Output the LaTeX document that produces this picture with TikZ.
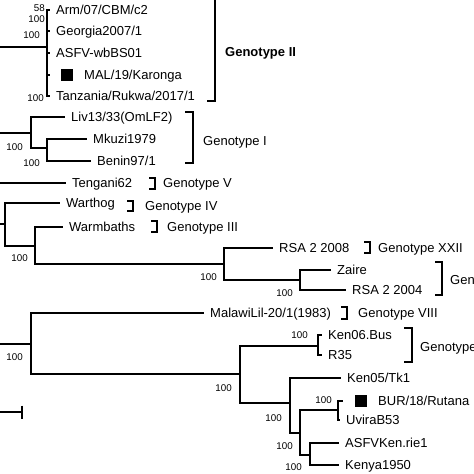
\documentclass[tikz,border=0pt]{standalone}
\usepackage{fontspec}
\setmainfont{Liberation Sans}
\usetikzlibrary{arrows.meta}
\newcommand{\sqmark}{\rule[-1pt]{12pt}{12pt}}

\begin{document}
\begin{tikzpicture}[x=1pt, y=-1pt,
  branch/.style={line width=2.4pt},
  leaf/.style={anchor=west, inner xsep=6pt, inner ysep=0pt, text height=9pt, text depth=0pt, font=\fontsize{13}{15}\selectfont},
  boot/.style={anchor=east, inner sep=0pt, text height=7pt, text depth=0pt, font=\fontsize{9.8}{11}\selectfont},
  gline/.style={line width=2.4pt},
  gname/.style={anchor=west, inner sep=0pt, text height=9pt, text depth=0pt, font=\fontsize{13}{15}\selectfont}
]
  \clip (0,0) rectangle (474,474);
  \fill[white] (0,0) rectangle (474,474);

  % genotype II
  \coordinate (r2) at (0,47);
  \coordinate (g2) at (47,47);
  \node[leaf] (arm) at (50,10) {Arm/07/CBM/c2};
  \node[leaf] (geo) at (50,31) {Georgia2007/1};
  \node[leaf] (wbbs) at (50,53) {ASFV-wbBS01};
  \node[leaf] (mal) at (50,75) {\hspace*{5pt}\sqmark\hspace{11pt}MAL/19/Karonga};
  \node[leaf] (tza) at (50,96) {Tanzania/Rukwa/2017/1};
  \draw[branch] (r2) -- (g2);
  \foreach \t in {arm,geo,wbbs,mal,tza}
    \draw[branch] (g2) |- (\t.west);
  \node[boot] (b1) at (45,8) {58};
  \node[boot] (b2) at (45,19) {100};
  \node[boot] (b3) at (40,35) {100};
  \node[boot] (b4) at (44,98) {100};

  % genotype I
  \coordinate (r1) at (0,133);
  \coordinate (g1) at (31,133);
  \coordinate (g1b) at (47,148);
  \node[leaf] (liv) at (65,117) {Liv13/33(OmLF2)};
  \node[leaf] (mkuzi) at (87,139) {Mkuzi1979};
  \node[leaf] (benin) at (91,161) {Benin97/1};
  \draw[branch] (r1) -- (g1);
  \draw[branch] (g1) |- (liv.west);
  \draw[branch] (g1) |- (g1b);
  \draw[branch] (g1b) |- (mkuzi.west);
  \draw[branch] (g1b) |- (benin.west);
  \node[boot] (b5) at (23,147) {100};
  \node[boot] (b6) at (40,163) {100};

  % genotype V
  \coordinate (r5) at (0,183);
  \node[leaf] (tengani) at (66,183) {Tengani62};
  \draw[branch] (r5) -- (tengani.west);

  % genotypes IV, III, XXII, XX
  \coordinate (r4) at (0,224);
  \coordinate (c4) at (5,224);
  \coordinate (c3) at (35,246);
  \coordinate (cbig) at (224,264);
  \coordinate (czx) at (300,280);
  \node[leaf] (warthog) at (60,203) {Warthog};
  \node[leaf] (warmbaths) at (63,227) {Warmbaths};
  \node[leaf] (rsa08) at (273,248) {RSA 2 2008};
  \node[leaf] (zaire) at (331,270) {Zaire};
  \node[leaf] (rsa04) at (346,290) {RSA 2 2004};
  \draw[branch] (r4) -- (c4);
  \draw[branch] (c4) |- (warthog.west);
  \draw[branch] (c4) |- (c3);
  \draw[branch] (c3) |- (warmbaths.west);
  \draw[branch] (c3) |- (cbig);
  \draw[branch] (cbig) |- (rsa08.west);
  \draw[branch] (cbig) |- (czx);
  \draw[branch] (czx) |- (zaire.west);
  \draw[branch] (czx) |- (rsa04.west);
  \node[boot] (b7) at (28,258) {100};
  \node[boot] (b8) at (217,277) {100};
  \node[boot] (b9) at (293,293) {100};

  % genotypes VIII, IX, X
  \coordinate (r8) at (0,344);
  \coordinate (c8) at (31,344);
  \coordinate (c9) at (240,374);
  \coordinate (ckb) at (318,346);
  \coordinate (c10) at (290,403);
  \coordinate (c11) at (300,433);
  \coordinate (c12) at (338,410);
  \coordinate (c13) at (310,455);
  \node[leaf] (malawi) at (204,313) {MalawiLil-20/1(1983)};
  \node[leaf] (ken06) at (322,335) {Ken06.Bus};
  \node[leaf] (r35) at (322,355) {R35};
  \node[leaf] (ken05) at (341,378) {Ken05/Tk1};
  \node[leaf] (bur) at (343,401) {\hspace*{6pt}\sqmark\hspace{11pt}BUR/18/Rutana};
  \node[leaf] (uvira) at (340,420) {UviraB53};
  \node[leaf] (asfvken) at (339,443) {ASFVKen.rie1};
  \node[leaf] (kenya) at (339,465) {Kenya1950};
  \draw[branch] (r8) -- (c8);
  \draw[branch] (c8) |- (malawi.west);
  \draw[branch] (c8) |- (c9);
  \draw[branch] (c9) |- (ckb);
  \draw[branch] (c9) |- (c10);
  \draw[branch] (ckb) |- (ken06.west);
  \draw[branch] (ckb) |- (r35.west);
  \draw[branch] (c10) |- (ken05.west);
  \draw[branch] (c10) |- (c11);
  \draw[branch] (c11) |- (c12);
  \draw[branch] (c11) |- (c13);
  \draw[branch] (c12) |- (bur.west);
  \draw[branch] (c12) |- (uvira.west);
  \draw[branch] (c13) |- (asfvken.west);
  \draw[branch] (c13) |- (kenya.west);
  \node[boot] (b10) at (23,357) {100};
  \node[boot] (b11) at (232,388) {100};
  \node[boot] (b12) at (308,335) {100};
  \node[boot] (b13) at (282,418) {100};
  \node[boot] (b14) at (332,400) {100};
  \node[boot] (b15) at (293,446) {100};
  \node[boot] (b16) at (302,467) {100};

  % genotype brackets
  \draw[gline] (207,-3) -| (215,101) -- (207,101);
  \node[gname, font=\fontsize{13}{15}\selectfont\bfseries] (gII) at (225,52) {Genotype II};
  \draw[gline] (185,112) -| (193,163) -- (185,163);
  \node[gname] (gI) at (203,141) {Genotype I};
  \draw[gline] (149,178) -| (155,189) -- (149,189);
  \node[gname] (gV) at (163,183) {Genotype V};
  \draw[gline] (127,201) -| (133,211) -- (127,211);
  \node[gname] (gIV) at (145,206) {Genotype IV};
  \draw[gline] (151,221) -| (157,232) -- (151,232);
  \node[gname] (gIII) at (167,227) {Genotype III};
  \draw[gline] (364,242) -| (370,253) -- (364,253);
  \node[gname] (gXXII) at (378,248) {Genotype XXII};
  \draw[gline] (435,262) -| (442,295) -- (435,295);
  \node[gname] (gXX) at (450,280) {Genotype};
  \draw[gline] (341,307) -| (347,319) -- (341,319);
  \node[gname] (gVIII) at (358,313) {Genotype VIII};
  \draw[gline] (404,328) -| (412,362) -- (404,362);
  \node[gname] (gIX) at (420,347) {Genotype};

  % scale bar
  \coordinate (sb0) at (0,412);
  \coordinate (sb1) at (23,412);
  \draw[branch, -{Bar[width=13pt]}] (sb0) -- (sb1);
\end{tikzpicture}
\end{document}
